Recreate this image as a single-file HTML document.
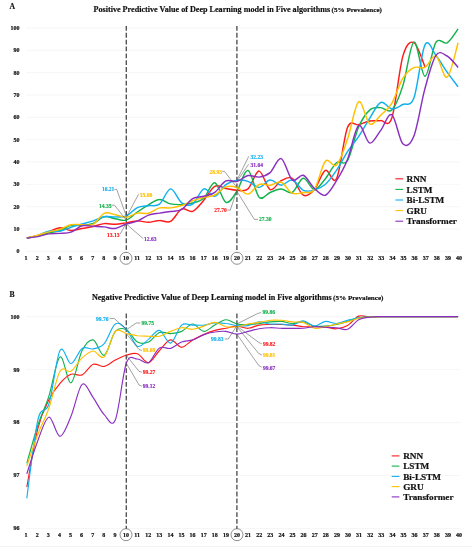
<!DOCTYPE html>
<html lang="en"><head><meta charset="utf-8"><title>Predictive Value of Deep Learning model in Five algorithms</title>
<style>html,body{margin:0;padding:0;background:#fff}svg{display:block}text{font-family:"Liberation Serif",serif;font-weight:bold;fill:#111}.t{font-size:8.15px;stroke:#111;stroke-width:.18px}.ts{font-size:7.15px}.ax{font-size:6px;text-anchor:middle;stroke:#111;stroke-width:.2px}.ay{font-size:6px;text-anchor:end;stroke:#111;stroke-width:.2px}.lg{font-size:9.2px;stroke:#111;stroke-width:.2px}.v{font-size:5.55px;stroke-width:.15px}.pl{font-size:7.7px;stroke:#111;stroke-width:.15px}.grid line{stroke:#f2f2f2;stroke-width:0.7}.ld{fill:none;stroke:#555;stroke-width:0.55}.dash{stroke:#555;stroke-width:1.4;stroke-dasharray:4.8 2.05}.cb .c{stroke-width:1.15}.c{fill:none;stroke-width:1.45;stroke-linecap:butt;stroke-linejoin:round}</style></head><body>
<svg width="475" height="550" viewBox="0 0 475 550">
<rect width="475" height="550" fill="#fff"/>
<text class="pl" x="9.6" y="8.8">A</text>
<text class="t" x="93.5" y="11.9">Positive Predictive Value of Deep Learning model in Five algorithms <tspan class="ts" dx="-0.6">(5% Prevalence)</tspan></text>
<g class="grid">
<line x1="26" y1="251.40" x2="460" y2="251.40"/>
<line x1="26" y1="229.05" x2="460" y2="229.05"/>
<line x1="26" y1="206.70" x2="460" y2="206.70"/>
<line x1="26" y1="184.35" x2="460" y2="184.35"/>
<line x1="26" y1="162.00" x2="460" y2="162.00"/>
<line x1="26" y1="139.65" x2="460" y2="139.65"/>
<line x1="26" y1="117.30" x2="460" y2="117.30"/>
<line x1="26" y1="94.95" x2="460" y2="94.95"/>
<line x1="26" y1="72.60" x2="460" y2="72.60"/>
<line x1="26" y1="50.25" x2="460" y2="50.25"/>
<line x1="26" y1="27.90" x2="460" y2="27.90"/>
</g>
<text class="ay" x="19.6" y="253.3">0</text>
<text class="ay" x="19.6" y="231.0">10</text>
<text class="ay" x="19.6" y="208.6">20</text>
<text class="ay" x="19.6" y="186.3">30</text>
<text class="ay" x="19.6" y="163.9">40</text>
<text class="ay" x="19.6" y="141.6">50</text>
<text class="ay" x="19.6" y="119.2">60</text>
<text class="ay" x="19.6" y="96.9">70</text>
<text class="ay" x="19.6" y="74.5">80</text>
<text class="ay" x="19.6" y="52.2">90</text>
<text class="ay" x="19.6" y="29.8">100</text>
<text class="ax" x="26.1" y="260.2">1</text>
<text class="ax" x="37.2" y="260.2">2</text>
<text class="ax" x="48.3" y="260.2">3</text>
<text class="ax" x="59.4" y="260.2">4</text>
<text class="ax" x="70.5" y="260.2">5</text>
<text class="ax" x="81.6" y="260.2">6</text>
<text class="ax" x="92.7" y="260.2">7</text>
<text class="ax" x="103.8" y="260.2">8</text>
<text class="ax" x="114.9" y="260.2">9</text>
<text class="ax" x="126.0" y="260.2">10</text>
<text class="ax" x="137.1" y="260.2">11</text>
<text class="ax" x="148.2" y="260.2">12</text>
<text class="ax" x="159.3" y="260.2">13</text>
<text class="ax" x="170.4" y="260.2">14</text>
<text class="ax" x="181.5" y="260.2">15</text>
<text class="ax" x="192.6" y="260.2">16</text>
<text class="ax" x="203.7" y="260.2">17</text>
<text class="ax" x="214.8" y="260.2">18</text>
<text class="ax" x="225.9" y="260.2">19</text>
<text class="ax" x="237.0" y="260.2">20</text>
<text class="ax" x="248.1" y="260.2">21</text>
<text class="ax" x="259.2" y="260.2">22</text>
<text class="ax" x="270.3" y="260.2">23</text>
<text class="ax" x="281.4" y="260.2">24</text>
<text class="ax" x="292.5" y="260.2">25</text>
<text class="ax" x="303.6" y="260.2">26</text>
<text class="ax" x="314.7" y="260.2">27</text>
<text class="ax" x="325.8" y="260.2">28</text>
<text class="ax" x="336.9" y="260.2">29</text>
<text class="ax" x="348.0" y="260.2">30</text>
<text class="ax" x="359.1" y="260.2">31</text>
<text class="ax" x="370.2" y="260.2">32</text>
<text class="ax" x="381.3" y="260.2">33</text>
<text class="ax" x="392.4" y="260.2">34</text>
<text class="ax" x="403.5" y="260.2">35</text>
<text class="ax" x="414.6" y="260.2">36</text>
<text class="ax" x="425.7" y="260.2">37</text>
<text class="ax" x="436.8" y="260.2">38</text>
<text class="ax" x="447.9" y="260.2">39</text>
<text class="ax" x="459.0" y="260.2">40</text>
<line class="dash" x1="126.3" y1="26" x2="126.3" y2="252.3"/>
<circle cx="126.0" cy="258.3" r="6" fill="none" stroke="#444" stroke-width="0.6"/>
<line class="dash" x1="236.9" y1="26" x2="236.9" y2="252.3"/>
<circle cx="237.0" cy="258.3" r="6" fill="none" stroke="#444" stroke-width="0.6"/>
<path class="c" stroke="#ff1a1a" d="M26.8 238.0C28.6 237.6 34.2 236.7 37.9 235.7C41.5 234.6 45.2 232.9 48.9 231.6C52.6 230.3 56.3 228.0 60.0 227.8C63.7 227.7 67.4 230.4 71.0 230.5C74.7 230.6 78.4 229.2 82.1 228.5C85.8 227.8 89.5 227.3 93.2 226.5C96.8 225.7 100.5 224.0 104.2 223.6C107.9 223.2 111.6 224.4 115.3 224.3C119.0 224.1 122.7 223.4 126.3 222.9C130.0 222.3 133.7 221.0 137.4 220.9C141.1 220.8 144.8 222.3 148.5 222.3C152.1 222.2 155.8 220.6 159.5 220.5C163.2 220.3 166.9 223.3 170.6 221.4C174.3 219.5 178.0 210.7 181.6 209.1C185.3 207.4 189.0 212.8 192.7 211.3C196.4 209.8 200.1 204.5 203.8 200.3C207.4 196.2 211.1 188.2 214.8 186.3C218.5 184.3 222.2 187.8 225.9 188.5C229.6 189.2 233.3 190.2 236.9 190.3C240.6 190.4 244.3 192.2 248.0 188.9C251.7 185.7 255.4 171.0 259.1 171.1C262.7 171.2 266.4 188.0 270.1 189.6C273.8 191.2 277.5 182.5 281.2 180.7C284.9 178.8 288.6 176.0 292.2 178.4C295.9 180.9 299.6 193.3 303.3 195.2C307.0 197.1 310.7 193.8 314.4 189.6C318.0 185.5 321.7 172.2 325.4 170.4C329.1 168.6 332.8 185.8 336.5 178.7C340.2 171.5 343.9 136.5 347.5 127.5C351.2 118.5 354.9 125.9 358.6 124.8C362.3 123.7 366.0 121.7 369.7 121.0C373.3 120.3 377.0 121.0 380.7 120.6C384.4 120.1 388.1 128.8 391.8 118.1C395.5 107.4 399.2 69.0 402.8 56.4C406.5 43.8 410.2 40.8 413.9 42.6C417.6 44.3 423.1 62.7 425.0 66.7"/>
<path class="c" stroke="#12b24c" d="M26.8 238.0C28.6 237.7 34.2 236.8 37.9 235.9C41.5 235.0 45.2 233.6 48.9 232.8C52.6 231.9 56.3 231.7 60.0 230.5C63.7 229.3 67.4 226.2 71.0 225.4C74.7 224.5 78.4 225.7 82.1 225.4C85.8 225.0 89.5 224.8 93.2 223.4C96.8 221.9 100.5 217.4 104.2 216.7C107.9 215.9 111.6 218.1 115.3 218.7C119.0 219.3 122.7 221.2 126.3 220.1C130.0 219.0 133.7 214.5 137.4 212.0C141.1 209.4 144.8 206.9 148.5 204.8C152.1 202.7 155.8 199.6 159.5 199.5C163.2 199.3 166.9 203.1 170.6 203.9C174.3 204.8 178.0 204.7 181.6 204.6C185.3 204.4 189.0 204.1 192.7 203.0C196.4 202.0 200.1 201.7 203.8 198.3C207.4 194.9 211.1 182.0 214.8 182.7C218.5 183.4 222.2 200.9 225.9 202.4C229.6 203.8 233.3 196.5 236.9 191.2C240.6 185.9 244.3 169.4 248.0 170.4C251.7 171.4 255.4 193.5 259.1 197.2C262.7 200.9 266.4 193.9 270.1 192.5C273.8 191.1 277.5 188.9 281.2 188.9C284.9 188.9 288.6 194.3 292.2 192.5C295.9 190.7 299.6 178.7 303.3 178.2C307.0 177.7 310.7 189.5 314.4 189.6C318.0 189.7 321.7 183.1 325.4 178.7C329.1 174.2 332.8 165.8 336.5 162.8C340.2 159.8 343.9 166.5 347.5 160.6C351.2 154.6 354.9 135.5 358.6 127.0C362.3 118.6 366.0 113.3 369.7 110.1C373.3 106.8 377.0 107.6 380.7 107.6C384.4 107.6 388.1 113.7 391.8 110.1C395.5 106.4 399.2 97.2 402.8 85.9C406.5 74.6 410.2 43.7 413.9 42.1C417.6 40.5 421.3 76.3 425.0 76.3C428.6 76.3 432.3 47.7 436.0 42.1C439.7 36.5 443.4 45.0 447.1 42.8C450.8 40.6 456.3 31.2 458.1 28.9"/>
<path class="c" stroke="#10b0f0" d="M26.8 238.0C28.6 237.6 34.2 236.6 37.9 235.4C41.5 234.3 45.2 231.9 48.9 231.2C52.6 230.5 56.3 231.9 60.0 231.2C63.7 230.5 67.4 228.4 71.0 227.2C74.7 226.0 78.4 225.1 82.1 224.0C85.8 223.0 89.5 222.1 93.2 220.9C96.8 219.7 100.5 217.3 104.2 216.7C107.9 216.0 111.6 217.0 115.3 216.9C119.0 216.8 122.7 217.5 126.3 216.0C130.0 214.4 133.7 209.4 137.4 207.7C141.1 206.0 144.8 206.3 148.5 205.7C152.1 205.1 155.8 206.9 159.5 204.1C163.2 201.4 166.9 189.2 170.6 188.9C174.3 188.7 178.0 200.3 181.6 202.8C185.3 205.3 189.0 206.5 192.7 204.1C196.4 201.8 200.1 190.3 203.8 188.9C207.4 187.6 211.1 197.0 214.8 196.3C218.5 195.6 222.2 187.4 225.9 184.7C229.6 182.0 233.3 180.7 236.9 180.2C240.6 179.6 244.3 180.1 248.0 181.4C251.7 182.6 255.4 187.6 259.1 187.4C262.7 187.2 266.4 180.4 270.1 180.0C273.8 179.6 277.5 185.2 281.2 185.2C284.9 185.2 288.6 179.2 292.2 180.0C295.9 180.9 299.6 188.6 303.3 190.3C307.0 192.0 310.7 191.1 314.4 190.1C318.0 189.1 321.7 187.5 325.4 184.3C329.1 181.0 332.8 175.8 336.5 170.4C340.2 165.0 343.9 157.2 347.5 151.6C351.2 146.0 354.9 142.2 358.6 136.7C362.3 131.1 366.0 124.0 369.7 118.3C373.3 112.6 377.0 104.0 380.7 102.5C384.4 100.9 388.1 108.6 391.8 108.9C395.5 109.3 399.2 106.3 402.8 104.5C406.5 102.6 410.2 107.9 413.9 98.0C417.6 88.0 421.3 51.9 425.0 44.8C428.6 37.7 432.3 51.0 436.0 55.5C439.7 60.1 443.4 66.8 447.1 72.1C450.8 77.3 456.3 84.4 458.1 86.8"/>
<path class="c" stroke="#ffc000" d="M26.8 238.0C28.6 237.5 34.2 236.2 37.9 235.2C41.5 234.2 45.2 232.8 48.9 231.9C52.6 230.9 56.3 230.6 60.0 229.4C63.7 228.2 67.4 225.5 71.0 224.7C74.7 223.9 78.4 224.8 82.1 224.7C85.8 224.6 89.5 226.2 93.2 224.3C96.8 222.4 100.5 214.9 104.2 213.3C107.9 211.7 111.6 214.0 115.3 214.7C119.0 215.3 122.7 217.4 126.3 217.2C130.0 216.9 133.7 213.7 137.4 213.1C141.1 212.4 144.8 214.2 148.5 213.3C152.1 212.5 155.8 208.8 159.5 207.9C163.2 207.1 166.9 208.4 170.6 207.9C174.3 207.5 178.0 206.7 181.6 205.5C185.3 204.3 189.0 202.1 192.7 200.8C196.4 199.5 200.1 198.4 203.8 197.4C207.4 196.5 211.1 196.7 214.8 195.0C218.5 193.2 222.2 188.2 225.9 186.9C229.6 185.7 233.3 186.3 236.9 187.5C240.6 188.7 244.3 194.6 248.0 194.1C251.7 193.6 255.4 186.0 259.1 184.5C262.7 183.0 266.4 185.5 270.1 185.2C273.8 184.8 277.5 180.9 281.2 182.2C284.9 183.6 288.6 191.5 292.2 193.2C295.9 194.9 299.6 193.1 303.3 192.5C307.0 191.9 310.7 194.8 314.4 189.6C318.0 184.4 321.7 165.3 325.4 161.2C329.1 157.1 332.8 168.7 336.5 165.0C340.2 161.4 343.9 149.9 347.5 139.3C351.2 128.8 354.9 104.4 358.6 101.8C362.3 99.2 366.0 121.7 369.7 123.9C373.3 126.1 377.0 118.6 380.7 115.2C384.4 111.8 388.1 109.5 391.8 103.3C395.5 97.2 399.2 84.3 402.8 78.3C406.5 72.4 410.2 69.4 413.9 67.6C417.6 65.8 421.3 69.3 425.0 67.4C428.6 65.4 432.3 54.3 436.0 56.0C439.7 57.6 443.4 79.4 447.1 77.2C450.8 75.0 456.3 48.5 458.1 42.8"/>
<path class="c" stroke="#8a2fc0" d="M26.8 238.0C28.6 237.8 34.2 237.2 37.9 236.6C41.5 235.9 45.2 234.4 48.9 233.9C52.6 233.4 56.3 233.7 60.0 233.4C63.7 233.1 67.4 233.4 71.0 232.1C74.7 230.8 78.4 226.8 82.1 225.8C85.8 224.9 89.5 226.1 93.2 226.3C96.8 226.5 100.5 226.6 104.2 226.9C107.9 227.3 111.6 229.0 115.3 228.5C119.0 228.0 122.7 225.2 126.3 224.0C130.0 222.7 133.7 222.6 137.4 221.1C141.1 219.7 144.8 216.4 148.5 215.1C152.1 213.8 155.8 213.7 159.5 213.1C163.2 212.5 166.9 212.1 170.6 211.5C174.3 210.9 178.0 211.7 181.6 209.5C185.3 207.4 189.0 200.8 192.7 198.6C196.4 196.4 200.1 197.4 203.8 196.3C207.4 195.3 211.1 194.9 214.8 192.3C218.5 189.7 222.2 182.7 225.9 180.9C229.6 179.1 233.3 182.4 236.9 181.5C240.6 180.6 244.3 176.3 248.0 175.5C251.7 174.8 255.4 177.6 259.1 177.1C262.7 176.6 266.4 175.7 270.1 172.6C273.8 169.5 277.5 157.3 281.2 158.6C284.9 159.8 288.6 177.2 292.2 180.0C295.9 182.8 299.6 173.9 303.3 175.3C307.0 176.7 310.7 185.2 314.4 188.5C318.0 191.8 321.7 196.5 325.4 195.2C329.1 193.9 332.8 186.6 336.5 180.7C340.2 174.7 343.9 168.6 347.5 159.4C351.2 150.3 354.9 128.4 358.6 125.7C362.3 123.0 366.0 142.3 369.7 143.1C373.3 143.9 377.0 135.1 380.7 130.4C384.4 125.7 388.1 112.5 391.8 114.7C395.5 117.0 399.2 140.3 402.8 143.8C406.5 147.3 410.2 145.2 413.9 136.0C417.6 126.7 421.3 101.8 425.0 88.4C428.6 74.9 432.3 60.7 436.0 55.3C439.7 49.9 443.4 54.0 447.1 56.0C450.8 58.0 456.3 65.5 458.1 67.4"/>
<polyline class="ld" points="114.5,189.4 116.7,189.4 126.3,216.0"/>
<text class="v" x="101.9" y="191.3" text-anchor="start" style="fill:#10b0f0;stroke:#10b0f0">16.21</text>
<polyline class="ld" points="138.6,194.2 126.3,217.2"/>
<text class="v" x="139.8" y="196.9" text-anchor="start" style="fill:#ffc000;stroke:#ffc000">15.68</text>
<polyline class="ld" points="111.5,205.2 114.5,205.2 126.3,220.1"/>
<text class="v" x="99.0" y="207.5" text-anchor="start" style="fill:#12b24c;stroke:#12b24c">14.35</text>
<polyline class="ld" points="120.3,234.0 126.3,222.9"/>
<text class="v" x="107.0" y="236.6" text-anchor="start" style="fill:#ff1a1a;stroke:#ff1a1a">13.13</text>
<polyline class="ld" points="143.2,238.6 126.3,224.0"/>
<text class="v" x="144.0" y="241.2" text-anchor="start" style="fill:#8a2fc0;stroke:#8a2fc0">12.63</text>
<polyline class="ld" points="222.2,171.4 224.5,171.4 236.9,187.5"/>
<text class="v" x="209.5" y="173.5" text-anchor="start" style="fill:#ffc000;stroke:#ffc000">28.93</text>
<polyline class="ld" points="248.8,156.3 236.9,180.2"/>
<text class="v" x="250.5" y="158.7" text-anchor="start" style="fill:#10b0f0;stroke:#10b0f0">32.23</text>
<polyline class="ld" points="248.6,164.3 236.9,181.5"/>
<text class="v" x="250.5" y="166.7" text-anchor="start" style="fill:#8a2fc0;stroke:#8a2fc0">31.64</text>
<polyline class="ld" points="227.4,210.1 230.3,210.1 236.9,190.3"/>
<text class="v" x="214.3" y="212.4" text-anchor="start" style="fill:#ff1a1a;stroke:#ff1a1a">27.70</text>
<polyline class="ld" points="258.0,219.4 254.3,219.4 236.9,191.2"/>
<text class="v" x="259.0" y="221.3" text-anchor="start" style="fill:#12b24c;stroke:#12b24c">27.30</text>
<line x1="395.4" y1="178.8" x2="403.2" y2="178.8" stroke="#ff1a1a" stroke-width="1.1"/>
<text class="lg" x="406.5" y="181.9">RNN</text>
<line x1="395.4" y1="189.4" x2="403.2" y2="189.4" stroke="#12b24c" stroke-width="1.1"/>
<text class="lg" x="406.5" y="192.5">LSTM</text>
<line x1="395.4" y1="200.0" x2="403.2" y2="200.0" stroke="#10b0f0" stroke-width="1.1"/>
<text class="lg" x="406.5" y="203.1">Bi-LSTM</text>
<line x1="395.4" y1="210.6" x2="403.2" y2="210.6" stroke="#ffc000" stroke-width="1.1"/>
<text class="lg" x="406.5" y="213.7">GRU</text>
<line x1="395.4" y1="221.2" x2="403.2" y2="221.2" stroke="#8a2fc0" stroke-width="1.1"/>
<text class="lg" x="406.5" y="224.3">Transformer</text>
<text class="pl" x="9.6" y="297">B</text>
<text class="t" x="91.9" y="299.7">Negative Predictive Value of Deep Learning model in Five algorithms <tspan class="ts" dx="-0.6">(5% Prevalence)</tspan></text>
<g class="grid">
<line x1="26" y1="528.48" x2="460" y2="528.48"/>
<line x1="26" y1="475.51" x2="460" y2="475.51"/>
<line x1="26" y1="422.54" x2="460" y2="422.54"/>
<line x1="26" y1="369.57" x2="460" y2="369.57"/>
<line x1="26" y1="316.60" x2="460" y2="316.60"/>
</g>
<text class="ay" x="19.6" y="530.4">96</text>
<text class="ay" x="19.6" y="477.4">97</text>
<text class="ay" x="19.6" y="424.4">98</text>
<text class="ay" x="19.6" y="371.5">99</text>
<text class="ay" x="19.6" y="318.5">100</text>
<text class="ax" x="26.1" y="536.6">1</text>
<text class="ax" x="37.2" y="536.6">2</text>
<text class="ax" x="48.3" y="536.6">3</text>
<text class="ax" x="59.4" y="536.6">4</text>
<text class="ax" x="70.5" y="536.6">5</text>
<text class="ax" x="81.6" y="536.6">6</text>
<text class="ax" x="92.7" y="536.6">7</text>
<text class="ax" x="103.8" y="536.6">8</text>
<text class="ax" x="114.9" y="536.6">9</text>
<text class="ax" x="126.0" y="536.6">10</text>
<text class="ax" x="137.1" y="536.6">11</text>
<text class="ax" x="148.2" y="536.6">12</text>
<text class="ax" x="159.3" y="536.6">13</text>
<text class="ax" x="170.4" y="536.6">14</text>
<text class="ax" x="181.5" y="536.6">15</text>
<text class="ax" x="192.6" y="536.6">16</text>
<text class="ax" x="203.7" y="536.6">17</text>
<text class="ax" x="214.8" y="536.6">18</text>
<text class="ax" x="225.9" y="536.6">19</text>
<text class="ax" x="237.0" y="536.6">20</text>
<text class="ax" x="248.1" y="536.6">21</text>
<text class="ax" x="259.2" y="536.6">22</text>
<text class="ax" x="270.3" y="536.6">23</text>
<text class="ax" x="281.4" y="536.6">24</text>
<text class="ax" x="292.5" y="536.6">25</text>
<text class="ax" x="303.6" y="536.6">26</text>
<text class="ax" x="314.7" y="536.6">27</text>
<text class="ax" x="325.8" y="536.6">28</text>
<text class="ax" x="336.9" y="536.6">29</text>
<text class="ax" x="348.0" y="536.6">30</text>
<text class="ax" x="359.1" y="536.6">31</text>
<text class="ax" x="370.2" y="536.6">32</text>
<text class="ax" x="381.3" y="536.6">33</text>
<text class="ax" x="392.4" y="536.6">34</text>
<text class="ax" x="403.5" y="536.6">35</text>
<text class="ax" x="414.6" y="536.6">36</text>
<text class="ax" x="425.7" y="536.6">37</text>
<text class="ax" x="436.8" y="536.6">38</text>
<text class="ax" x="447.9" y="536.6">39</text>
<text class="ax" x="459.0" y="536.6">40</text>
<line class="dash" x1="126.3" y1="313.5" x2="126.3" y2="528.7"/>
<circle cx="126.0" cy="534.7" r="6" fill="none" stroke="#444" stroke-width="0.6"/>
<line class="dash" x1="236.9" y1="313.5" x2="236.9" y2="528.7"/>
<circle cx="237.0" cy="534.7" r="6" fill="none" stroke="#444" stroke-width="0.6"/>
<g class="cb">
<path class="c" stroke="#ff1a1a" d="M26.8 487.2C28.6 477.4 34.2 442.9 37.9 428.4C41.5 413.8 45.2 407.3 48.9 399.8C52.6 392.3 56.3 387.6 60.0 383.3C63.7 379.1 67.4 375.7 71.0 374.3C74.7 372.9 78.4 376.5 82.1 374.9C85.8 373.2 89.5 365.7 93.2 364.3C96.8 362.9 100.5 367.1 104.2 366.4C107.9 365.7 111.6 361.9 115.3 360.0C119.0 358.2 122.7 356.3 126.3 355.3C130.0 354.2 133.7 352.4 137.4 353.7C141.1 354.9 144.8 363.2 148.5 362.7C152.1 362.2 155.8 354.3 159.5 350.5C163.2 346.7 166.9 340.4 170.6 339.9C174.3 339.4 178.0 347.3 181.6 347.3C185.3 347.3 189.0 342.0 192.7 339.9C196.4 337.8 200.1 336.2 203.8 334.6C207.4 333.0 211.1 331.4 214.8 330.4C218.5 329.3 222.2 329.0 225.9 328.3C229.6 327.5 233.3 326.1 236.9 326.1C240.6 326.1 244.3 328.4 248.0 328.3C251.7 328.1 255.4 325.7 259.1 325.1C262.7 324.5 266.4 324.6 270.1 324.5C273.8 324.5 277.5 324.5 281.2 324.5C284.9 324.6 288.6 324.7 292.2 325.1C295.9 325.4 299.6 326.4 303.3 326.7C307.0 326.9 310.7 326.6 314.4 326.7C318.0 326.8 321.7 326.8 325.4 327.2C329.1 327.5 332.8 329.0 336.5 328.8C340.2 328.5 343.9 327.7 347.5 325.6C351.2 323.5 354.9 317.5 358.6 316.1C362.3 314.7 366.0 317.0 369.7 317.1C373.3 317.2 377.0 316.7 380.7 316.6C384.4 316.5 388.1 316.6 391.8 316.6C395.5 316.6 399.2 316.6 402.8 316.6C406.5 316.6 410.2 316.6 413.9 316.6C417.6 316.6 421.3 316.6 425.0 316.6C428.6 316.6 432.3 316.6 436.0 316.6C439.7 316.6 443.4 316.6 447.1 316.6C450.8 316.6 456.3 316.6 458.1 316.6"/>
<path class="c" stroke="#12b24c" d="M26.8 463.3C28.6 457.0 34.2 436.4 37.9 425.2C41.5 414.0 45.2 407.4 48.9 396.1C52.6 384.7 56.3 359.1 60.0 356.9C63.7 354.7 67.4 383.9 71.0 382.8C74.7 381.8 78.4 357.7 82.1 350.5C85.8 343.3 89.5 339.1 93.2 339.9C96.8 340.7 100.5 356.7 104.2 355.3C107.9 353.9 111.6 335.7 115.3 331.4C119.0 327.2 122.7 328.1 126.3 329.8C130.0 331.6 133.7 340.0 137.4 342.0C141.1 344.1 144.8 343.6 148.5 342.0C152.1 340.4 155.8 333.9 159.5 332.5C163.2 331.1 166.9 333.7 170.6 333.6C174.3 333.4 178.0 333.0 181.6 331.4C185.3 329.8 189.0 324.0 192.7 324.0C196.4 324.0 200.1 331.3 203.8 331.4C207.4 331.6 211.1 327.0 214.8 325.1C218.5 323.1 222.2 320.0 225.9 319.8C229.6 319.6 233.3 323.2 236.9 324.0C240.6 324.8 244.3 324.6 248.0 324.5C251.7 324.5 255.4 323.9 259.1 323.5C262.7 323.0 266.4 322.3 270.1 321.9C273.8 321.5 277.5 321.1 281.2 321.4C284.9 321.6 288.6 323.4 292.2 323.5C295.9 323.6 299.6 321.5 303.3 321.9C307.0 322.3 310.7 325.4 314.4 326.1C318.0 326.8 321.7 326.4 325.4 326.1C329.1 325.9 332.8 325.3 336.5 324.5C340.2 323.8 343.9 322.5 347.5 321.4C351.2 320.2 354.9 318.4 358.6 317.7C362.3 317.0 366.0 317.3 369.7 317.1C373.3 317.0 377.0 316.7 380.7 316.6C384.4 316.5 388.1 316.6 391.8 316.6C395.5 316.6 399.2 316.6 402.8 316.6C406.5 316.6 410.2 316.6 413.9 316.6C417.6 316.6 421.3 316.6 425.0 316.6C428.6 316.6 432.3 316.6 436.0 316.6C439.7 316.6 443.4 316.6 447.1 316.6C450.8 316.6 456.3 316.6 458.1 316.6"/>
<path class="c" stroke="#10b0f0" d="M26.8 498.3C28.6 485.2 34.2 435.6 37.9 419.9C41.5 404.2 45.2 415.6 48.9 404.0C52.6 392.4 56.3 357.2 60.0 350.5C63.7 343.8 67.4 364.1 71.0 363.7C74.7 363.4 78.4 350.9 82.1 348.4C85.8 345.9 89.5 349.7 93.2 348.9C96.8 348.1 100.5 347.8 104.2 343.6C107.9 339.5 111.6 326.4 115.3 324.0C119.0 321.6 122.7 325.6 126.3 329.3C130.0 333.0 133.7 344.6 137.4 346.3C141.1 347.9 144.8 342.0 148.5 339.4C152.1 336.7 155.8 329.8 159.5 330.4C163.2 331.0 166.9 344.0 170.6 343.1C174.3 342.2 178.0 328.1 181.6 325.1C185.3 322.1 189.0 325.1 192.7 325.1C196.4 325.1 200.1 325.4 203.8 325.1C207.4 324.7 211.1 323.2 214.8 323.0C218.5 322.7 222.2 323.0 225.9 323.5C229.6 323.9 233.3 325.3 236.9 325.6C240.6 326.0 244.3 326.2 248.0 325.6C251.7 325.0 255.4 322.2 259.1 321.9C262.7 321.6 266.4 323.7 270.1 324.0C273.8 324.4 277.5 323.8 281.2 324.0C284.9 324.2 288.6 325.6 292.2 325.1C295.9 324.5 299.6 320.7 303.3 320.8C307.0 321.0 310.7 326.0 314.4 326.1C318.0 326.2 321.7 321.8 325.4 321.4C329.1 320.9 332.8 323.7 336.5 323.5C340.2 323.3 343.9 321.3 347.5 320.3C351.2 319.3 354.9 318.2 358.6 317.7C362.3 317.1 366.0 317.3 369.7 317.1C373.3 317.0 377.0 316.7 380.7 316.6C384.4 316.5 388.1 316.6 391.8 316.6C395.5 316.6 399.2 316.6 402.8 316.6C406.5 316.6 410.2 316.6 413.9 316.6C417.6 316.6 421.3 316.6 425.0 316.6C428.6 316.6 432.3 316.6 436.0 316.6C439.7 316.6 443.4 316.6 447.1 316.6C450.8 316.6 456.3 316.6 458.1 316.6"/>
<path class="c" stroke="#ffc000" d="M26.8 466.0C28.6 460.7 34.2 443.8 37.9 434.2C41.5 424.6 45.2 418.7 48.9 408.2C52.6 397.7 56.3 377.3 60.0 371.2C63.7 365.0 67.4 373.4 71.0 371.2C74.7 369.0 78.4 361.3 82.1 357.9C85.8 354.6 89.5 351.2 93.2 351.0C96.8 350.9 100.5 360.1 104.2 356.9C107.9 353.6 111.6 335.3 115.3 331.4C119.0 327.5 122.7 332.8 126.3 333.6C130.0 334.3 133.7 335.2 137.4 335.7C141.1 336.1 144.8 336.1 148.5 336.2C152.1 336.3 155.8 337.0 159.5 336.2C163.2 335.4 166.9 332.8 170.6 331.4C174.3 330.0 178.0 328.1 181.6 327.7C185.3 327.4 189.0 329.6 192.7 329.3C196.4 329.0 200.1 327.3 203.8 326.1C207.4 325.0 211.1 322.3 214.8 322.4C218.5 322.5 222.2 326.0 225.9 326.7C229.6 327.4 233.3 327.1 236.9 326.7C240.6 326.2 244.3 324.7 248.0 324.0C251.7 323.3 255.4 323.0 259.1 322.4C262.7 321.8 266.4 320.7 270.1 320.3C273.8 320.0 277.5 320.0 281.2 320.3C284.9 320.6 288.6 321.5 292.2 321.9C295.9 322.3 299.6 321.4 303.3 322.4C307.0 323.5 310.7 327.5 314.4 328.3C318.0 329.0 321.7 327.4 325.4 326.7C329.1 326.0 332.8 324.8 336.5 324.0C340.2 323.2 343.9 322.9 347.5 321.9C351.2 320.9 354.9 319.0 358.6 318.2C362.3 317.4 366.0 317.4 369.7 317.1C373.3 316.9 377.0 316.7 380.7 316.6C384.4 316.5 388.1 316.6 391.8 316.6C395.5 316.6 399.2 316.6 402.8 316.6C406.5 316.6 410.2 316.6 413.9 316.6C417.6 316.6 421.3 316.6 425.0 316.6C428.6 316.6 432.3 316.6 436.0 316.6C439.7 316.6 443.4 316.6 447.1 316.6C450.8 316.6 456.3 316.6 458.1 316.6"/>
<path class="c" stroke="#8a2fc0" d="M26.8 473.9C28.6 468.4 34.2 450.0 37.9 440.5C41.5 431.1 45.2 417.9 48.9 417.2C52.6 416.5 56.3 436.5 60.0 436.3C63.7 436.1 67.4 424.8 71.0 416.2C74.7 407.5 78.4 387.5 82.1 384.4C85.8 381.3 89.5 392.6 93.2 397.6C96.8 402.7 100.5 410.9 104.2 414.6C107.9 418.3 111.6 428.5 115.3 419.9C119.0 411.3 122.7 373.4 126.3 363.2C130.0 353.1 133.7 359.1 137.4 359.0C141.1 358.9 144.8 364.5 148.5 362.7C152.1 360.8 155.8 350.2 159.5 347.9C163.2 345.5 166.9 349.4 170.6 348.4C174.3 347.4 178.0 343.4 181.6 342.0C185.3 340.6 189.0 341.1 192.7 339.9C196.4 338.7 200.1 335.9 203.8 334.6C207.4 333.3 211.1 332.5 214.8 332.0C218.5 331.4 222.2 331.1 225.9 331.4C229.6 331.8 233.3 334.1 236.9 334.1C240.6 334.1 244.3 332.3 248.0 331.4C251.7 330.5 255.4 329.4 259.1 328.8C262.7 328.2 266.4 327.8 270.1 327.7C273.8 327.6 277.5 328.2 281.2 328.3C284.9 328.3 288.6 328.3 292.2 328.3C295.9 328.3 299.6 328.5 303.3 328.3C307.0 328.0 310.7 326.8 314.4 326.7C318.0 326.5 321.7 327.0 325.4 327.2C329.1 327.4 332.8 327.4 336.5 327.7C340.2 328.1 343.9 330.6 347.5 329.3C351.2 328.0 354.9 321.8 358.6 319.8C362.3 317.7 366.0 317.7 369.7 317.1C373.3 316.6 377.0 316.7 380.7 316.6C384.4 316.5 388.1 316.6 391.8 316.6C395.5 316.6 399.2 316.6 402.8 316.6C406.5 316.6 410.2 316.6 413.9 316.6C417.6 316.6 421.3 316.6 425.0 316.6C428.6 316.6 432.3 316.6 436.0 316.6C439.7 316.6 443.4 316.6 447.1 316.6C450.8 316.6 456.3 316.6 458.1 316.6"/>
</g>
<polyline class="ld" points="109.6,318.4 114.4,318.6 126.3,329.3"/>
<text class="v" x="96.0" y="320.5" text-anchor="start" style="fill:#10b0f0;stroke:#10b0f0">99.76</text>
<polyline class="ld" points="140.3,323.0 136.2,323.0 126.3,329.8"/>
<text class="v" x="141.5" y="324.9" text-anchor="start" style="fill:#12b24c;stroke:#12b24c">99.75</text>
<polyline class="ld" points="141.8,350.5 139.0,349.5 126.3,333.6"/>
<text class="v" x="142.8" y="352.4" text-anchor="start" style="fill:#ffc000;stroke:#ffc000">99.68</text>
<polyline class="ld" points="141.8,372.3 139.0,371.3 126.3,355.3"/>
<text class="v" x="142.8" y="374.2" text-anchor="start" style="fill:#ff1a1a;stroke:#ff1a1a">99.27</text>
<polyline class="ld" points="141.8,386.1 139.0,385.0 126.3,363.2"/>
<text class="v" x="142.8" y="388.0" text-anchor="start" style="fill:#8a2fc0;stroke:#8a2fc0">99.12</text>
<polyline class="ld" points="224.7,339.0 228.3,339.0 236.9,325.6"/>
<text class="v" x="211.0" y="341.3" text-anchor="start" style="fill:#10b0f0;stroke:#10b0f0">99.83</text>
<polyline class="ld" points="261.2,312.5 257.6,313.5 236.9,324.0"/>
<text class="v" x="262.5" y="314.4" text-anchor="start" style="fill:#12b24c;stroke:#12b24c">99.86</text>
<polyline class="ld" points="261.8,343.8 258.7,342.4 236.9,326.1"/>
<text class="v" x="262.9" y="346.4" text-anchor="start" style="fill:#ff1a1a;stroke:#ff1a1a">99.82</text>
<polyline class="ld" points="261.8,355.0 258.7,353.5 236.9,326.7"/>
<text class="v" x="262.9" y="357.3" text-anchor="start" style="fill:#ffc000;stroke:#ffc000">99.81</text>
<polyline class="ld" points="261.8,367.2 258.7,365.5 236.9,334.1"/>
<text class="v" x="262.9" y="369.5" text-anchor="start" style="fill:#8a2fc0;stroke:#8a2fc0">99.67</text>
<line x1="391.7" y1="455.9" x2="399.4" y2="455.9" stroke="#ff1a1a" stroke-width="1.1"/>
<text class="lg" x="403.2" y="459.0">RNN</text>
<line x1="391.7" y1="466.1" x2="399.4" y2="466.1" stroke="#12b24c" stroke-width="1.1"/>
<text class="lg" x="403.2" y="469.2">LSTM</text>
<line x1="391.7" y1="476.4" x2="399.4" y2="476.4" stroke="#10b0f0" stroke-width="1.1"/>
<text class="lg" x="403.2" y="479.5">Bi-LSTM</text>
<line x1="391.7" y1="486.6" x2="399.4" y2="486.6" stroke="#ffc000" stroke-width="1.1"/>
<text class="lg" x="403.2" y="489.8">GRU</text>
<line x1="391.7" y1="496.9" x2="399.4" y2="496.9" stroke="#8a2fc0" stroke-width="1.1"/>
<text class="lg" x="403.2" y="500.0">Transformer</text>
<line x1="0" y1="546.4" x2="472" y2="546.4" stroke="#eee" stroke-width="0.7"/>
</svg></body></html>
